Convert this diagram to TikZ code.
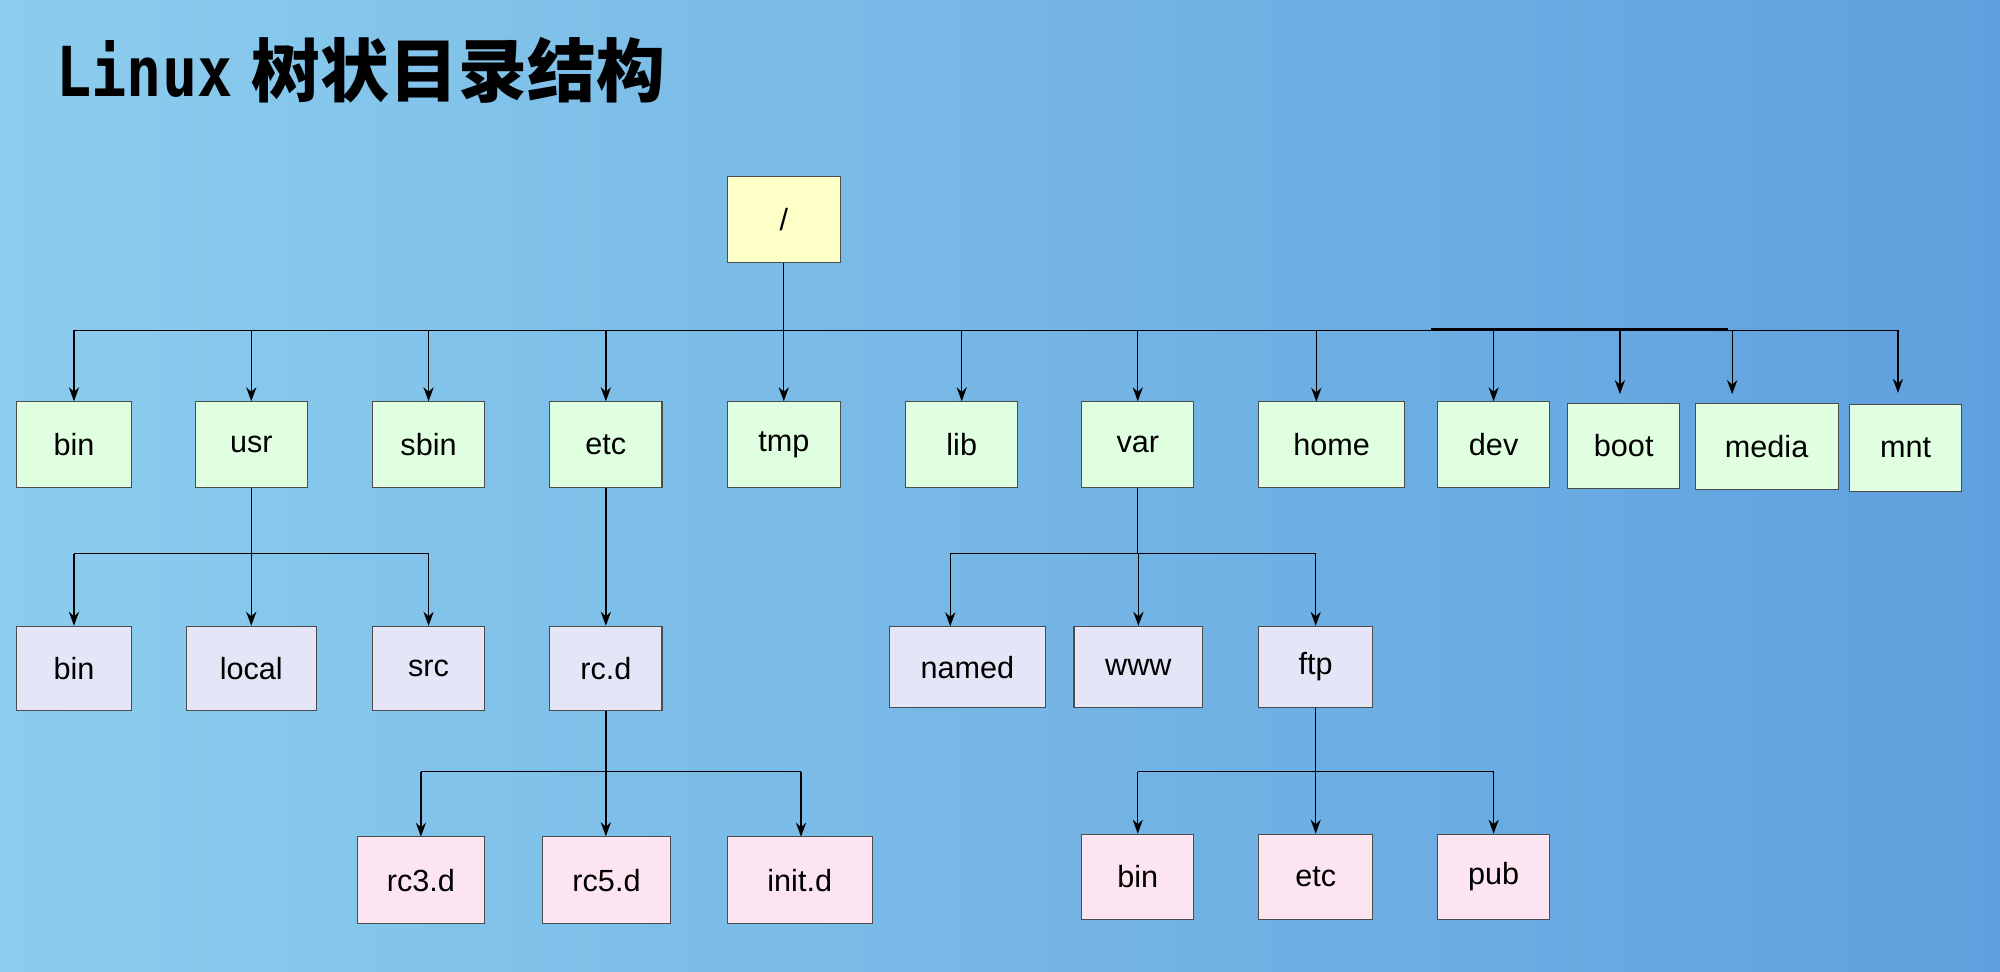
\documentclass[tikz,border=0pt]{standalone}
\usepackage{fontspec}
\setmainfont{Liberation Sans}
\newfontfamily\cjk{Noto Sans CJK SC}
\newfontfamily\monof{DejaVu Sans Mono}
\usetikzlibrary{arrows.meta}
\begin{document}
\begin{tikzpicture}[x=1pt,y=-1pt,
  bx/.style={draw=black!70,line width=0.8pt,inner sep=0pt,font=\fontsize{24}{28}\selectfont},
  g/.style={bx,fill=green!12!white},
  bl/.style={bx,fill={rgb,255:red,228;green,230;blue,248}},
  pk/.style={bx,fill={rgb,255:red,252;green,228;blue,240}},
  ln/.style={line width=1pt},
  ar/.style={ln,-{Stealth[length=11pt,width=8pt]}}]
\shade[left color={rgb,255:red,140;green,205;blue,238},right color={rgb,255:red,95;green,160;blue,222}] (0,0) rectangle (1568,762);
\useasboundingbox (0,0) rectangle (1568,762);
\node[anchor=west,inner sep=0pt,font=\fontsize{54}{58}\selectfont\bfseries] (title) at (44,55) {{\monof\addfontfeature{FakeStretch=0.85}Linux} {\cjk 树状目录结构}};
\def\B#1#2#3#4#5#6#7{\node[#1,minimum width={#4-#3},minimum height={#6-#5}] (#2) at ({(#3+#4)/2},{(#5+#6)/2}) {#7};}
\B{bx,fill={rgb,255:red,255;green,255;blue,200}}{root}{570}{659}{138}{206}{/}
\B{g}{bin}{13}{103}{315}{382}{bin}
\B{g}{usr}{153}{241}{315}{382}{usr}
\B{g}{sbin}{292}{380}{315}{382}{sbin}
\B{g}{etc}{431}{519}{315}{382}{etc}
\B{g}{tmp}{570}{659}{315}{382}{tmp}
\B{g}{lib}{710}{798}{315}{382}{lib}
\B{g}{var}{848}{936}{315}{382}{var}
\B{g}{home}{987}{1101}{315}{382}{home}
\B{g}{dev}{1127}{1215}{315}{382}{dev}
\B{g}{boot}{1229}{1317}{316}{383}{boot}
\B{g}{media}{1329}{1441}{316}{384}{media}
\B{g}{mnt}{1450}{1538}{317}{385}{mnt}
\B{bl}{ubin}{13}{103}{491}{557}{bin}
\B{bl}{local}{146}{248}{491}{557}{local}
\B{bl}{src}{292}{380}{491}{557}{src}
\B{bl}{rcd}{431}{519}{491}{557}{rc.d}
\B{bl}{named}{697}{820}{491}{555}{named}
\B{bl}{www}{842}{943}{491}{555}{www}
\B{bl}{ftp}{987}{1076}{491}{555}{ftp}
\B{pk}{rc3}{280}{380}{656}{724}{rc3.d}
\B{pk}{rc5}{425}{526}{656}{724}{rc5.d}
\B{pk}{init}{570}{684}{656}{724}{init.d}
\B{pk}{fbin}{848}{936}{654}{721}{bin}
\B{pk}{fetc}{987}{1076}{654}{721}{etc}
\B{pk}{pub}{1127}{1215}{654}{721}{pub}
\coordinate (h1) at (58,259);\coordinate (h2) at (1488,259);\coordinate (mc) at (1488,308);
\draw[ln] (root.south) -- (root.south|-h1);
\draw[ln] (h1) -- (h2);
\draw[line width=2pt] (1122,258) -- (1355,258);
\foreach \n in {bin,usr,sbin,etc,lib,var,dev} \draw[ar] (\n.north|-h1) -- (\n.north);
\draw[ar] (1032,259) -- (1032,315);
\draw[ar] (1270,259) -- (1270,309);
\draw[ar] (1358,259) -- (1358,309);
\draw[ar] (root.south|-h1) -- (tmp.north);
\draw[ar] (h2) -- (mc);
\coordinate (u) at (0,434);
\draw[ln] (usr.south) -- (usr.south|-u);
\draw[ln] (ubin.north|-u) -- (src.north|-u);
\foreach \n in {ubin,src} \draw[ar] (\n.north|-u) -- (\n.north);
\draw[ar] (usr.south|-u) -- (usr.south|-local.north);
\draw[ar] (etc.south) -- (rcd.north);
\draw[ln] (var.south) -- (var.south|-u);
\draw[ln] (745,434) -- (ftp.north|-u);
\draw[ar] (745,434) -- (745,491);
\foreach \n in {www,ftp} \draw[ar] (\n.north|-u) -- (\n.north);
\coordinate (r) at (0,605);
\draw[ln] (rcd.south) -- (rcd.south|-r);
\draw[ln] (330,605) -- (628,605);
\draw[ar] (330,605) -- (330,656);
\draw[ar] (rcd.south|-r) -- (rcd.south|-rc5.north);
\draw[ar] (628,605) -- (628,656);
\draw[ln] (ftp.south) -- (ftp.south|-r);
\draw[ln] (fbin.north|-r) -- (pub.north|-r);
\foreach \n in {fbin,fetc,pub} \draw[ar] (\n.north|-r) -- (\n.north);
\end{tikzpicture}
\end{document}
